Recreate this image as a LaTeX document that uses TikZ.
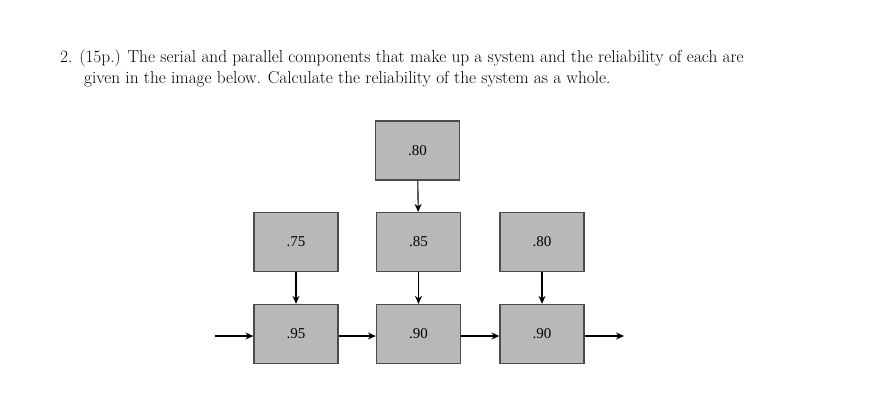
\documentclass[tikz,border=0pt]{standalone}
\usepackage{fontspec}
\newfontfamily\tnr{Liberation Serif}
\usetikzlibrary{arrows.meta}
\begin{document}
\begin{tikzpicture}[x=1pt,y=-1pt,
  blk/.style={draw=black!70,line width=1.2pt,fill=black!28,minimum width=84pt,minimum height=59pt,font=\tnr\fontsize{15}{16}\selectfont,inner sep=0pt},
  arr/.style={-{Stealth[length=8pt,width=7pt]},line width=1.1pt}]
\useasboundingbox (0,0) rectangle (884,410);
\node[anchor=base west,font=\fontsize{17.3}{19}\selectfont,inner sep=0pt] (t1) at (60,62) {2. (15p.) The serial and parallel components that make up a system and the reliability of each are};
\node[anchor=base west,font=\fontsize{17.3}{19}\selectfont,inner sep=0pt] (t2) at (84,83) {given in the image below. Calculate the reliability of the system as a whole.};
\node[blk] (a) at (417.5,150.5) {.80};
\node[blk] (b1) at (296,242) {.75};
\node[blk] (b2) at (418.5,242) {.85};
\node[blk] (b3) at (542,242) {.80};
\node[blk] (c1) at (296,334) {.95};
\node[blk] (c2) at (418.5,334) {.90};
\node[blk] (c3) at (542,334) {.90};
\coordinate (in) at (215,336);
\coordinate (out) at (624,336);
\draw[arr] (a) -- (b2);
\draw[arr] (b1) -- (c1);
\draw[arr] (b2) -- (c2);
\draw[arr] (b3) -- (c3);
\draw[arr] (in) -- (in -| c1.west);
\draw[arr] (c1.east |- in) -- (in -| c2.west);
\draw[arr] (c2.east |- in) -- (in -| c3.west);
\draw[arr] (c3.east |- in) -- (out);
\end{tikzpicture}
\end{document}
